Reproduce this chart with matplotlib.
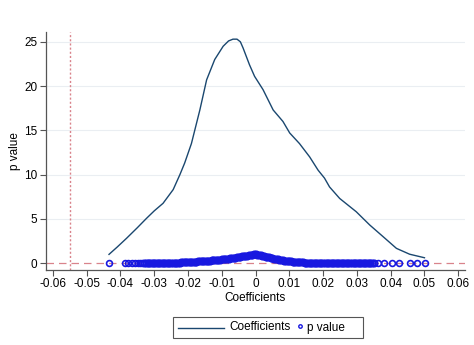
import matplotlib.pyplot as plt
from matplotlib.lines import Line2D
from matplotlib.patches import Rectangle

plt.rcParams['font.family'] = ['Liberation Sans', 'DejaVu Sans']

# coefficient density curve
coef_x = [-0.0434, -0.0410, -0.0382, -0.0350, -0.0323, -0.0300, -0.0274, -0.0244,
          -0.0224, -0.0210, -0.0190, -0.0165, -0.0145, -0.0121, -0.0096, -0.0080,
          -0.0067, -0.0055, -0.0045, -0.0037, -0.0018, -0.0003, 0.0022, 0.0052,
          0.0081, 0.0101, 0.0130, 0.0160, 0.0185, 0.0204, 0.0219, 0.0249, 0.0298,
          0.0338, 0.0377, 0.0417, 0.0456, 0.0500]
coef_y = [0.98, 1.8, 2.8, 4.0, 5.05, 5.9, 6.75, 8.3,
          10.0, 11.3, 13.5, 17.3, 20.7, 23.0, 24.5, 25.1,
          25.3, 25.3, 25.0, 24.3, 22.4, 21.1, 19.6, 17.3,
          16.0, 14.7, 13.5, 12.0, 10.5, 9.6, 8.6, 7.3, 5.8,
          4.3, 3.0, 1.66, 1.0, 0.6]

# p values against coefficient (sparse tails)
tail_x = [-0.0434, -0.0387, -0.0377, -0.0367, -0.0358, -0.0348, -0.0341, -0.0336,
          0.0361, 0.0381, 0.0404, 0.0426, 0.0456, 0.0477, 0.0503]
tail_y = [0.0, 0.0, 0.0, 0.0, 0.0, 0.0, 0.0, 0.0,
          0.0, 0.0, 0.0, 0.0, 0.0, 0.0, 0.0]

# p values against coefficient (dense middle)
p_x = [-0.0330, -0.0325, -0.0320, -0.0315, -0.0310, -0.0305, -0.0300, -0.0295,
       -0.0290, -0.0285, -0.0280, -0.0275, -0.0270, -0.0265, -0.0260, -0.0255,
       -0.0250, -0.0245, -0.0240, -0.0235, -0.0230, -0.0225, -0.0220, -0.0215,
       -0.0210, -0.0205, -0.0200, -0.0195, -0.0190, -0.0185, -0.0180, -0.0175,
       -0.0170, -0.0165, -0.0160, -0.0155, -0.0150, -0.0145, -0.0140, -0.0135,
       -0.0130, -0.0125, -0.0120, -0.0115, -0.0110, -0.0105, -0.0100, -0.0095,
       -0.0090, -0.0085, -0.0080, -0.0075, -0.0070, -0.0065, -0.0060, -0.0055,
       -0.0050, -0.0045, -0.0040, -0.0035, -0.0030, -0.0025, -0.0020, -0.0015,
       -0.0010, -0.0005, 0.0000, 0.0005, 0.0010, 0.0015, 0.0020, 0.0025,
       0.0030, 0.0035, 0.0040, 0.0045, 0.0050, 0.0055, 0.0060, 0.0065,
       0.0070, 0.0075, 0.0080, 0.0085, 0.0090, 0.0095, 0.0100, 0.0105,
       0.0110, 0.0115, 0.0120, 0.0125, 0.0130, 0.0135, 0.0140, 0.0145,
       0.0150, 0.0155, 0.0160, 0.0165, 0.0170, 0.0175, 0.0180, 0.0185,
       0.0190, 0.0195, 0.0200, 0.0205, 0.0210, 0.0215, 0.0220, 0.0225,
       0.0230, 0.0235, 0.0240, 0.0245, 0.0250, 0.0255, 0.0260, 0.0265,
       0.0270, 0.0275, 0.0280, 0.0285, 0.0290, 0.0295, 0.0300, 0.0305,
       0.0310, 0.0315, 0.0320, 0.0325, 0.0330, 0.0335, 0.0340, 0.0345, 0.0350]
p_y = [0.00, 0.00, 0.00, 0.00, 0.00, 0.00, 0.01, 0.01,
       0.01, 0.01, 0.02, 0.02, 0.02, 0.02, 0.03, 0.03,
       0.04, 0.04, 0.05, 0.05, 0.06, 0.06, 0.07, 0.08,
       0.09, 0.10, 0.11, 0.12, 0.13, 0.14, 0.15, 0.16,
       0.18, 0.19, 0.21, 0.22, 0.24, 0.25, 0.27, 0.28,
       0.30, 0.32, 0.34, 0.36, 0.38, 0.40, 0.42, 0.44,
       0.46, 0.48, 0.51, 0.53, 0.56, 0.59, 0.62, 0.65,
       0.68, 0.71, 0.75, 0.78, 0.81, 0.84, 0.88, 0.91,
       0.94, 0.97, 1.00, 0.95, 0.91, 0.86, 0.82, 0.77,
       0.73, 0.68, 0.64, 0.59, 0.55, 0.50, 0.46, 0.42,
       0.38, 0.34, 0.31, 0.28, 0.25, 0.22, 0.20, 0.18,
       0.16, 0.14, 0.12, 0.10, 0.09, 0.08, 0.07, 0.06,
       0.05, 0.045, 0.04, 0.035, 0.03, 0.025, 0.02, 0.02,
       0.02, 0.015, 0.01, 0.01, 0.01, 0.01, 0.01, 0.01,
       0.00, 0.00, 0.00, 0.00, 0.00, 0.00, 0.00, 0.00,
       0.00, 0.00, 0.00, 0.00, 0.00, 0.00, 0.00, 0.00,
       0.00, 0.00, 0.00, 0.00, 0.00, 0.00, 0.00, 0.00, 0.00]

x_ticks = [-0.06, -0.05, -0.04, -0.03, -0.02, -0.01, 0, 0.01, 0.02, 0.03, 0.04, 0.05, 0.06]
x_labels = ['-0.06', '-0.05', '-0.04', '-0.03', '-0.02', '-0.01', '0',
            '0.01', '0.02', '0.03', '0.04', '0.05', '0.06']
y_ticks = [0, 5, 10, 15, 20, 25]
vline_x = -0.055

navy = '#1a476f'
blue = '#1818e0'
red = '#d9838b'
grey = '#555555'

fig = plt.figure(figsize=(4.74, 3.45), dpi=100)
ax = fig.add_axes([0.096, 0.217, 0.885, 0.69])

for y in y_ticks[1:]:
    ax.axhline(y, color='#eaeef2', lw=0.8, zorder=0)
ax.axhline(0, color=red, lw=0.9, ls=(0, (6, 4)), zorder=1)
ax.axvline(vline_x, color=red, lw=1.0, ls=(0, (1.5, 1.5)), zorder=1)

ax.plot(coef_x, coef_y, color=navy, lw=1.0, zorder=3)
ax.plot(p_x, p_y, ls='none', marker='o', ms=4.4, mfc='none', mec=blue, mew=1.4, zorder=4)
ax.plot(tail_x, tail_y, ls='none', marker='o', ms=4.2, mfc='none', mec=blue, mew=1.2, zorder=4)

ax.set_xlim(-0.0622, 0.062)
ax.set_ylim(-0.8, 26.1)
ax.set_xticks(x_ticks)
ax.set_xticklabels(x_labels)
ax.set_yticks(y_ticks)
ax.tick_params(labelsize=8.5, length=4, color=grey, width=0.8, pad=2)
for s in ['top', 'right']:
    ax.spines[s].set_visible(False)
for s in ['left', 'bottom']:
    ax.spines[s].set_color(grey)
    ax.spines[s].set_linewidth(0.9)
ax.set_xlabel('Coefficients', fontsize=8.5, labelpad=1)
ax.set_ylabel('p value', fontsize=8.5, labelpad=2)

# legend drawn by hand so the two keys can have different widths
W, H = 474.0, 345.0
fig.add_artist(Rectangle((173 / W, 1 - 338 / H), 190 / W, 21 / H, transform=fig.transFigure,
                         fill=False, edgecolor=grey, lw=0.8))
ly = 1 - 327.5 / H
fig.add_artist(Line2D([178 / W, 224 / W], [ly, ly], transform=fig.transFigure, color=navy, lw=1.0))
fig.text(229 / W, ly, 'Coefficients', fontsize=8.5, va='center', ha='left')
fig.add_artist(Line2D([300 / W], [ly + 2 / H], transform=fig.transFigure, ls='none', marker='o',
                      ms=2.5, mfc='none', mec=blue, mew=1.0))
fig.text(307 / W, ly, 'p value', fontsize=8.5, va='center', ha='left')

fig.savefig('out.png', dpi=100)
